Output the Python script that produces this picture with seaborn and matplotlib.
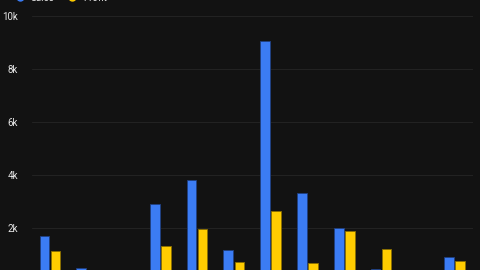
import matplotlib
matplotlib.use("Agg")
import matplotlib.pyplot as plt
import seaborn as sns
import pandas as pd
from matplotlib.lines import Line2D

categories = ["1", "2", "3", "4", "5", "6", "7", "8", "9", "10", "11", "12"]
sales = [1700, 470, 150, 2900, 3800, 1160, 9050, 3300, 1980, 440, 150, 880]
profit = [1140, 300, 120, 1300, 1940, 690, 2620, 680, 1860, 1180, 100, 740]
series_names = ["Sales", "Profit"]
tick_values = [2000, 4000, 6000, 8000, 10000]
tick_labels = ["2k", "4k", "6k", "8k", "10k"]

df = pd.DataFrame({
    "cat": categories * 2,
    "value": sales + profit,
    "series": [series_names[0]] * len(categories) + [series_names[1]] * len(categories),
})

BG = "#121212"
BLUE = "#3b7cf4"
YELLOW = "#ffcc00"

sns.set_theme(style="dark")
plt.rcParams["font.family"] = ["Roboto", "DejaVu Sans"]

fig = plt.figure(figsize=(4.8, 2.7), dpi=100, facecolor=BG)
ax = fig.add_axes([31.6 / 480, -10.7 / 270, 441.3 / 480, 264.7 / 270])
ax.set_facecolor(BG)

sns.barplot(data=df, x="cat", y="value", hue="series", order=categories,
            hue_order=series_names, palette=[BLUE, YELLOW], width=0.6, gap=0.12,
            ax=ax, legend=False, edgecolor="#1f3f80", linewidth=0.6, saturation=1)
for p in ax.patches:
    fc = p.get_facecolor()
    if abs(fc[0] - 1.0) < 0.01:
        p.set_edgecolor("#8a6e00")

ax.set_xlim(-0.5, len(categories) - 0.5)
ax.set_ylim(0, 10000)
ax.set_yticks(tick_values)
ax.set_yticklabels(tick_labels)
ax.set_xticks([])
ax.set_xlabel("")
ax.set_ylabel("")
ax.tick_params(axis="y", length=0, pad=10, labelsize=7, labelcolor="#e6e6e6")
ax.grid(axis="y", color="#222222", linewidth=0.8)
ax.grid(axis="x", visible=False)
for s in ax.spines.values():
    s.set_visible(False)

handles = [Line2D([], [], marker="o", linestyle="", markersize=5, color=c) for c in (BLUE, YELLOW)]
leg = fig.legend(handles, series_names, loc="center left", bbox_to_anchor=(0.022, 1.008),
                 ncol=2, frameon=False, fontsize=7, labelcolor="#e6e6e6",
                 handletextpad=0.5, columnspacing=1.2, borderaxespad=0, handlelength=1.2)

fig.savefig("out.png", dpi=100, facecolor=BG)
